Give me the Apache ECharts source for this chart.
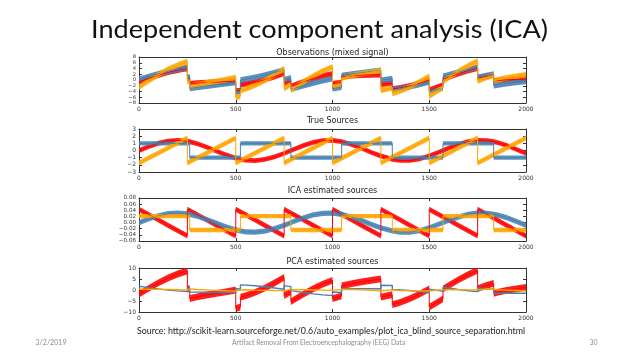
<!DOCTYPE html>
<html><head><meta charset="utf-8">
<script src="https://cdn.jsdelivr.net/npm/echarts@6/dist/echarts.min.js"></script>
<style>html,body{margin:0;padding:0;background:#fff;}#c{width:638px;height:359px;}</style>
</head><body><div id="c"></div>
<script>
// ---- data ----
const sampleIdx = [0,50,100,150,200,250,250,262,262,300,
 350,400,450,500,500,524,524,550,600,650,
 700,750,750,785,785,800,850,900,950,1000,
 1000,1047,1047,1100,1150,1200,1250,1250,1309,1309,
 1350,1400,1450,1500,1500,1550,1571,1571,1600,1650,
 1700,1750,1750,1800,1833,1833,1850,1900,1950,2000];

const obsRed = [-0.73,0.51,1.66,2.67,3.45,4.02,0.56,0.65,-1.35,-1.09,
 -0.88,-0.73,-0.59,-0.34,-3.80,-3.63,-1.63,-1.39,-0.76,0.10,
 1.15,2.33,-1.13,-0.25,-2.25,-1.87,-0.65,0.47,1.41,2.13,
 -1.33,-0.85,1.15,1.48,1.67,1.79,1.96,-1.50,-1.14,-3.14,
 -2.74,-2.04,-1.12,-0.03,-3.49,-2.27,-1.75,0.25,0.98,2.19,
 3.26,4.13,0.67,1.32,1.64,-0.36,-0.22,0.06,0.20,0.32];
const obsBlue = [0.27,1.24,2.16,3.01,3.75,4.38,0.92,1.04,-2.96,-2.57,
 -2.12,-1.69,-1.28,-0.81,-4.27,-4.02,-0.02,0.29,0.95,1.73,
 2.60,3.53,0.07,0.75,-3.25,-2.96,-2.00,-1.09,-0.28,0.43,
 -3.03,-2.47,1.54,2.07,2.51,2.92,3.35,-0.12,0.47,-3.53,
 -3.05,-2.35,-1.54,-0.65,-4.11,-3.16,-2.75,1.25,1.82,2.77,
 3.65,4.43,0.97,1.64,2.03,-1.97,-1.79,-1.30,-0.88,-0.48];
const obsOrange = [-2.46,-0.26,1.82,3.68,5.20,6.40,-0.53,-0.31,-2.31,-1.66,
 -1.00,-0.42,0.14,0.86,-6.07,-5.65,-3.65,-3.11,-1.82,-0.18,
 1.75,3.86,-3.06,-1.50,-3.50,-2.83,-0.65,1.38,3.14,4.56,
 -2.36,-1.32,0.69,1.55,2.18,2.71,3.31,-3.62,-2.67,-4.67,
 -3.79,-2.39,-0.66,1.32,-5.60,-3.43,-2.50,-0.50,0.80,2.96,
 4.91,6.56,-0.36,0.96,1.67,-0.33,-0.01,0.77,1.32,1.85];

const trueSine = [0,0.55,1.01,1.32,1.41,1.29,1.29,1.22,1.22,0.95,
 0.47,-0.08,-0.63,-1.07,-1.07,-1.23,-1.23,-1.35,-1.41,-1.25,
 -0.89,-0.40,-0.40,0,0,0.17,0.70,1.12,1.37,1.40,
 1.40,1.23,1.23,0.83,0.32,-0.25,-0.77,-0.77,-1.22,-1.22,
 -1.39,-1.39,-1.16,-0.76,-0.76,-0.23,0,0,0.33,0.84,
 1.22,1.40,1.40,1.36,1.22,1.22,1.13,0.71,0.16,-0.41];
const trueSquare = [1,1,1,1,1,1,1,1,-1,-1,
 -1,-1,-1,-1,-1,-1,1,1,1,1,
 1,1,1,1,-1,-1,-1,-1,-1,-1,
 -1,-1,1,1,1,1,1,1,1,-1,
 -1,-1,-1,-1,-1,-1,-1,1,1,1,
 1,1,1,1,1,-1,-1,-1,-1,-1];
const trueSaw = [-1.73,-1.04,-0.35,0.35,1.04,1.73,-1.73,-1.57,-1.57,-1.04,
 -0.35,0.35,1.04,1.73,-1.73,-1.40,-1.40,-1.04,-0.35,0.35,
 1.04,1.73,-1.73,-1.25,-1.25,-1.04,-0.35,0.35,1.04,1.73,
 -1.73,-1.08,-1.08,-0.35,0.35,1.04,1.73,-1.73,-0.92,-0.92,
 -0.35,0.35,1.04,1.73,-1.73,-1.04,-0.75,-0.75,-0.35,0.35,
 1.04,1.73,-1.73,-1.04,-0.58,-0.58,-0.35,0.35,1.04,1.73];

const icaRed = [0.043,0.026,0.009,-0.009,-0.026,-0.043,0.043,0.039,0.039,0.026,
 0.009,-0.009,-0.026,-0.043,0.043,0.035,0.035,0.026,0.009,-0.009,
 -0.026,-0.043,0.043,0.031,0.031,0.026,0.009,-0.009,-0.026,-0.043,
 0.043,0.027,0.027,0.009,-0.009,-0.026,-0.043,0.043,0.023,0.023,
 0.009,-0.009,-0.026,-0.043,0.043,0.026,0.019,0.019,0.009,-0.009,
 -0.026,-0.043,0.043,0.026,0.015,0.015,0.009,-0.009,-0.026,-0.043];
const icaBlue = [0,0.012,0.022,0.029,0.031,0.028,0.028,0.027,0.027,0.021,
 0.010,-0.002,-0.014,-0.024,-0.024,-0.027,-0.027,-0.030,-0.031,-0.028,
 -0.020,-0.009,-0.009,0,0,0.004,0.015,0.025,0.030,0.031,
 0.031,0.027,0.027,0.018,0.007,-0.006,-0.017,-0.017,-0.027,-0.027,
 -0.031,-0.031,-0.026,-0.017,-0.017,-0.005,0,0,0.007,0.018,
 0.027,0.031,0.031,0.030,0.027,0.027,0.025,0.016,0.004,-0.009];
const icaOrange = [0.021,0.021,0.021,0.021,0.021,0.021,0.021,0.021,-0.024,-0.024,
 -0.024,-0.024,-0.024,-0.024,-0.024,-0.024,0.021,0.021,0.021,0.021,
 0.021,0.021,0.021,0.021,-0.024,-0.024,-0.024,-0.024,-0.024,-0.024,
 -0.024,-0.024,0.021,0.021,0.021,0.021,0.021,0.021,0.021,-0.024,
 -0.024,-0.024,-0.024,-0.024,-0.024,-0.024,-0.024,0.021,0.021,0.021,
 0.021,0.021,0.021,0.021,0.021,-0.024,-0.024,-0.024,-0.024,-0.024];

const pcaRed = [-1.89,0.75,3.23,5.46,7.28,8.72,0.40,0.67,-3.87,-3.08,
 -2.27,-1.57,-0.89,-0.01,-8.33,-7.82,-3.28,-2.63,-1.08,0.89,
 3.19,5.72,-2.60,-0.73,-5.27,-4.47,-1.87,0.56,2.67,4.38,
 -3.94,-2.67,1.87,2.91,3.68,4.33,5.06,-3.26,-2.11,-6.65,
 -5.58,-3.90,-1.83,0.54,-7.78,-5.18,-4.07,0.47,2.02,4.60,
 6.94,8.92,0.60,2.19,3.05,-1.49,-1.10,-0.17,0.51,1.16];
const pcaBlue = [1.73,1.09,0.49,-0.04,-0.42,-0.67,0.97,0.94,-0.88,-0.97,
 -1.02,-1.03,-1.04,-1.10,0.54,0.48,2.30,2.20,1.91,1.48,
 0.93,0.33,1.97,1.51,-0.31,-0.51,-1.15,-1.74,-2.22,-2.55,
 -0.91,-1.12,0.70,0.59,0.55,0.56,0.54,2.18,2.07,0.25,
 0.08,-0.26,-0.73,-1.28,0.36,-0.27,-0.55,1.27,0.89,0.25,
 -0.31,-0.73,0.91,0.61,0.47,-1.35,-1.40,-1.50,-1.50,-1.49];
const pcaOrange = [0.38,0.34,0.28,0.20,0.09,-0.04,0.56,0.52,0.36,0.23,
 0.04,-0.15,-0.35,-0.53,0.07,-0.01,0.15,0.08,-0.05,-0.15,
 -0.22,-0.27,0.33,0.30,0.14,0.12,0.08,0.01,-0.07,-0.19,
 0.41,0.28,0.44,0.25,0.06,-0.13,-0.33,0.27,0.07,-0.09,
 -0.21,-0.33,-0.42,-0.48,0.12,0.07,0.05,0.21,0.19,0.14,
 0.07,-0.03,0.57,0.45,0.35,0.19,0.13,-0.04,-0.24,-0.44];

const panelTitles = ['Observations (mixed signal)','True Sources','ICA estimated sources','PCA estimated sources'];
const xTickRange = [0, 2000, 500];
const yTickRanges = [[-8, 8, 2], [-3, 3, 1], [-0.06, 0.08, 0.02], [-10, 10, 5]];
const slideTitle = 'Independent component analysis (ICA)';
const sourceText = 'Source: http://scikit-learn.sourceforge.net/0.6/auto_examples/plot_ica_blind_source_separation.html';
const footerDate = '3/2/2019';
const footerTitle = 'Artifact Removal From Electroencephalography (EEG) Data';
const footerPage = '30';

// ---- layout / styles ----
const panelSeries = [
  [obsRed, obsBlue, obsOrange],
  [trueSine, trueSquare, trueSaw],
  [icaRed, icaBlue, icaOrange],
  [pcaRed, pcaBlue, pcaOrange]
];
const colors = ['#ff0000', '#4682b4', '#ffa500'];
// half-thickness (px) of the noisy band drawn around each signal; 0 = plain line
const bandHalf = [[2.8,2.8,2.8],[2.4,2.2,2.5],[2.6,2.6,2.2],[3.4,0,0]];
const lineW = [[1,1,1],[1,1,1],[1,1,1],[1,1.4,1.4]];
const gridTops = [57, 129, 198, 268];
const gridHeights = [46, 43, 43, 44];
const titleYs = [52.5, 121.3, 190.8, 261.7];
const decimals = [0, 0, 2, 0];
const yLabelSizes = [5.2, 6, 5.6, 6];

const chart = echarts.init(document.getElementById('c'), null, {renderer: 'canvas'});
const ctx = document.createElement('canvas').getContext('2d');
function measure(text, font) { ctx.font = font; return ctx.measureText(text).width; }
function fmt(v, dec) {
  if (Math.abs(v) < 1e-9) v = 0;
  const s = dec ? v.toFixed(dec) : String(Math.round(v));
  return s.replace('-', '\u2212');
}

const grid = [], xAxis = [], yAxis = [], series = [];
const axisColor = '#333';
for (let p = 0; p < 4; p++) {
  grid.push({left: 139, width: 387, top: gridTops[p], height: gridHeights[p], containLabel: false});
  const [ymin, ymax, yint] = yTickRanges[p];
  const common = {gridIndex: p, splitLine: {show: false},
    axisLine: {show: true, onZero: false, lineStyle: {color: axisColor, width: 1}},
    axisTick: {show: true, inside: true, length: 3, lineStyle: {color: axisColor}}};
  xAxis.push(Object.assign({}, common, {type: 'value', position: 'bottom', min: xTickRange[0], max: xTickRange[1], interval: xTickRange[2],
    axisLabel: {show: true, fontSize: 6, color: '#333', fontFamily: 'DejaVu Sans', margin: 3, showMinLabel: true, showMaxLabel: true, formatter: v => String(v)}}));
  xAxis.push(Object.assign({}, common, {type: 'value', position: 'top', min: xTickRange[0], max: xTickRange[1], interval: xTickRange[2],
    axisLabel: {show: false}}));
  yAxis.push(Object.assign({}, common, {type: 'value', position: 'left', min: ymin, max: ymax, interval: yint,
    axisLabel: {show: true, fontSize: yLabelSizes[p], lineHeight: yLabelSizes[p], color: '#333', fontFamily: 'DejaVu Sans', margin: 3,
      showMinLabel: true, showMaxLabel: true, hideOverlap: false, formatter: v => fmt(v, decimals[p])}}));
  yAxis.push(Object.assign({}, common, {type: 'value', position: 'right', min: ymin, max: ymax, interval: yint,
    axisLabel: {show: false}}));
  panelSeries[p].forEach((arr, k) => {
    const pts = sampleIdx.map((x, i) => [x, arr[i]]);
    const h = bandHalf[p][k];
    if (h > 0) {
      // band: polygon whose upper/lower edges follow the signal, offset vertically in pixels
      series.push({type: 'custom', xAxisIndex: 2 * p, yAxisIndex: 2 * p, clip: true, silent: true,
        data: [[xTickRange[0], ymin]],
        renderItem: (params, api) => {
          const up = [], lo = [];
          for (const pt of pts) {
            const c = api.coord(pt);
            up.push([c[0], c[1] - h]);
            lo.push([c[0], c[1] + h]);
          }
          return {type: 'polygon', shape: {points: up.concat(lo.reverse())},
            style: {fill: colors[k], opacity: 0.88}};
        }});
    }
    series.push({type: 'line', xAxisIndex: 2 * p, yAxisIndex: 2 * p, showSymbol: false, symbol: 'none',
      data: pts, clip: true, silent: true,
      lineStyle: {color: colors[k], width: lineW[p][k]}, itemStyle: {color: colors[k]}});
  });
}

function fittedText(text, cx, cy, family, size, targetWidth, fill) {
  const font = size + 'px ' + family;
  const w = measure(text, font);
  return {type: 'text', x: cx, y: cy, scaleX: targetWidth / w, scaleY: 1, z: 100,
    style: {text: text, x: 0, y: 0, font: font, fill: fill, textAlign: 'center', textVerticalAlign: 'middle', align: 'center', verticalAlign: 'middle'}};
}
const graphic = [];
graphic.push(fittedText(slideTitle, 319.5, 30, 'Lato', 25, 457, '#111'));
panelTitles.forEach((t, p) => {
  graphic.push({type: 'text', x: 332.5, y: titleYs[p], z: 100,
    style: {text: t, x: 0, y: 0, font: '8px "DejaVu Sans"', fill: '#222', textAlign: 'center', textVerticalAlign: 'middle', align: 'center', verticalAlign: 'middle'}});
});
graphic.push(fittedText(sourceText, 331, 331, 'Lato', 10, 388, '#1a1a1a'));
graphic.push(fittedText(footerDate, 51, 343, 'Lato', 7.5, 31, '#8c8c8c'));
graphic.push(fittedText(footerTitle, 318.5, 343, 'Lato', 7.5, 173, '#8c8c8c'));
graphic.push(fittedText(footerPage, 593.5, 343, 'Lato', 7.5, 8, '#8c8c8c'));

chart.setOption({animation: false, backgroundColor: '#ffffff', grid, xAxis, yAxis, series, graphic});
</script></body></html>
